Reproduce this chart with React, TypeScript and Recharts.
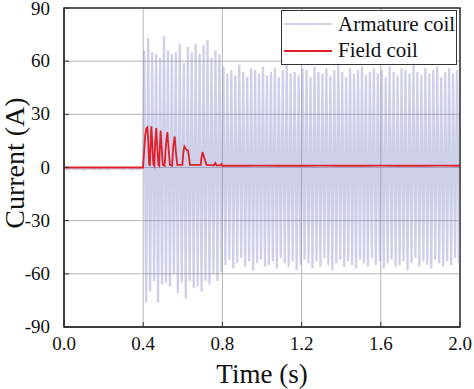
import { CartesianGrid, Line, LineChart, ReferenceArea, XAxis, YAxis } from 'recharts';

const xTicks = [0, 0.4, 0.8, 1.2, 1.6, 2.0];
const yTicks = [-90, -60, -30, 0, 30, 60, 90];

// armature coil, before the fault (sampled every 20 ms)
const armaturePre = [-0.4, -1.2, -0.3, -1.0, -0.5, -1.3, -0.2, -0.9, -0.6, -1.1, -0.4, -1.2, -0.3, -0.8, -0.5, -1.0, -0.2, -1.1, -0.6, -0.9];

// armature coil, positive / negative peak of each 20 ms cycle from 0.4 s on
const armaturePeaks = [
  66, 73, 65, 64, 62, 74, 66, 64, 65, 70, 59, 68, 65, 70, 64, 69, 72, 62, 66, 64,
  57, 53, 55, 52, 58, 54, 51, 56, 55, 53, 57, 52, 54, 56, 51, 55, 58, 53, 54, 52,
  56, 55, 51, 57, 54, 53, 56, 52, 55, 58, 54, 51, 56, 53, 55, 57, 52, 54, 56, 53,
  55, 51, 57, 54, 52, 56, 55, 53, 58, 54, 52, 56, 53, 55, 57, 51, 54, 56, 53, 55,
];
const armatureTroughs = [
  -76, -70, -64, -76, -66, -65, -67, -60, -71, -65, -74, -64, -68, -67, -70, -64, -66, -60, -64, -59,
  -55, -52, -57, -54, -51, -56, -53, -58, -54, -52, -56, -55, -53, -57, -51, -54, -56, -53, -58, -55,
  -52, -54, -57, -53, -56, -51, -55, -58, -54, -52, -56, -53, -55, -57, -52, -54, -56, -51, -55, -53,
  -57, -54, -52, -56, -55, -53, -58, -54, -51, -56, -53, -55, -57, -52, -54, -56, -53, -55, -51, -54,
];

// field coil
const fieldTime = [0, 0.1, 0.2, 0.3, 0.399, 0.403, 0.41, 0.416, 0.421, 0.426, 0.43, 0.434, 0.438, 0.441, 0.446, 0.451, 0.456, 0.461, 0.466, 0.471, 0.477, 0.481, 0.485, 0.488, 0.493, 0.499, 0.508, 0.515, 0.522, 0.528, 0.535, 0.546, 0.552, 0.559, 0.565, 0.572, 0.598, 0.603, 0.608, 0.618, 0.627, 0.636, 0.69, 0.695, 0.7, 0.71, 0.72, 0.757, 0.764, 0.771, 0.79, 0.795, 0.8, 0.9, 1.0, 1.1, 1.2, 1.3, 1.4, 1.5, 1.6, 1.7, 1.8, 1.9, 2.0];
const fieldCurrent = [0, 0, 0, 0, 0, 6, 18, 22, 22.6, 14, 2, 1, 15, 23.2, 14, 2, 1, 15, 22.3, 12, 1.5, 1, 14, 20.8, 12, 1.5, 1, 13, 20, 11, 1.5, 1, 12, 17.5, 9, 1.5, 1.5, 9, 11.9, 10, 9.5, 1.5, 1.5, 6, 8.7, 5, 1.5, 1.2, 2.5, 1.2, 1.2, 1.9, 1, 1, 1.1, 1, 1, 1.1, 1, 1, 1.1, 1, 1, 1.1, 1];

const armatureData = [
  ...armaturePre.map((v, i) => ({ t: i * 0.02, v })),
  { t: 0.4, v: 0 },
  ...armaturePeaks.flatMap((p, i) => [
    { t: 0.4 + i * 0.02 + 0.005, v: p },
    { t: 0.4 + i * 0.02 + 0.015, v: armatureTroughs[i] },
  ]),
];
const fieldData = fieldTime.map((t, i) => ({ t, v: fieldCurrent[i] }));

const font = "'Liberation Serif', 'Times New Roman', serif";
const blue = '#8a90cc';
const red = '#e0202a';

function XTick({ x, y, payload }: any) {
  return (
    <text x={x} y={y} dy={14} textAnchor="middle" fill="#111" fontSize={19} fontFamily={font}>
      {Number(payload.value).toFixed(1)}
    </text>
  );
}

function YTick({ x, y, payload }: any) {
  return (
    <text x={x} y={y} dy={6} textAnchor="end" fill="#111" fontSize={19} fontFamily={font}>
      {payload.value}
    </text>
  );
}

export default function App() {
  return (
    <div style={{ position: 'absolute', left: 0, top: 0, width: 474, height: 389, background: '#fff', fontFamily: font }}>
      <LineChart width={474} height={389} margin={{ top: 8, right: 14, left: 0, bottom: 0 }}>
        <CartesianGrid stroke="#b4b4b4" strokeWidth={1} />
        <XAxis
          type="number"
          dataKey="t"
          domain={[0, 2]}
          ticks={xTicks}
          height={62}
          tickSize={-5}
          tickMargin={14}
          axisLine={{ stroke: '#333', strokeWidth: 1.5 }}
          tickLine={{ stroke: '#333' }}
          tick={<XTick />}
          allowDataOverflow
          label={{
            value: 'Time (s)',
            content: () => (
              <text x={262} y={383} textAnchor="middle" fill="#111" fontSize={27} fontFamily={font}>Time (s)</text>
            ),
          }}
        />
        <YAxis
          type="number"
          domain={[-90, 90]}
          ticks={yTicks}
          width={64}
          tickSize={-5}
          tickMargin={19}
          axisLine={{ stroke: '#333', strokeWidth: 1.5 }}
          tickLine={{ stroke: '#333' }}
          tick={<YTick />}
          allowDataOverflow
          label={{
            value: 'Current (A)',
            content: () => (
              <text x={24} y={163} transform="rotate(-90 24 163)" textAnchor="middle" fill="#111" fontSize={28} fontFamily={font}>Current (A)</text>
            ),
          }}
        />
        <Line data={armatureData} dataKey="v" type="linear" stroke={blue} strokeOpacity={0.42} strokeWidth={2.3} dot={false} isAnimationActive={false} />
        <Line data={fieldData} dataKey="v" type="linear" stroke={red} strokeWidth={1.8} dot={false} isAnimationActive={false} />
        <ReferenceArea x1={0} x2={2} y1={-90} y2={90} fill="none" stroke="#333" strokeWidth={1.5} />
      </LineChart>
      <div
        style={{
          position: 'absolute', left: 281, top: 10, width: 176, height: 55, boxSizing: 'border-box',
          border: '1px solid #333', background: '#fff', fontSize: 21, color: '#111',
        }}
      >
        {[{ name: 'Armature coil', color: '#9ea3d6', w: 1 }, { name: 'Field coil', color: red, w: 2 }].map((item) => (
          <div key={item.name} style={{ display: 'flex', alignItems: 'center', height: 26.5, whiteSpace: 'nowrap' }}>
            <svg width={54} height={10} style={{ marginLeft: 2, flexShrink: 0 }}>
              <line x1={0} y1={5} x2={48} y2={5} stroke={item.color} strokeWidth={item.w} />
            </svg>
            <span style={{ lineHeight: 1 }}>{item.name}</span>
          </div>
        ))}
      </div>
    </div>
  );
}
